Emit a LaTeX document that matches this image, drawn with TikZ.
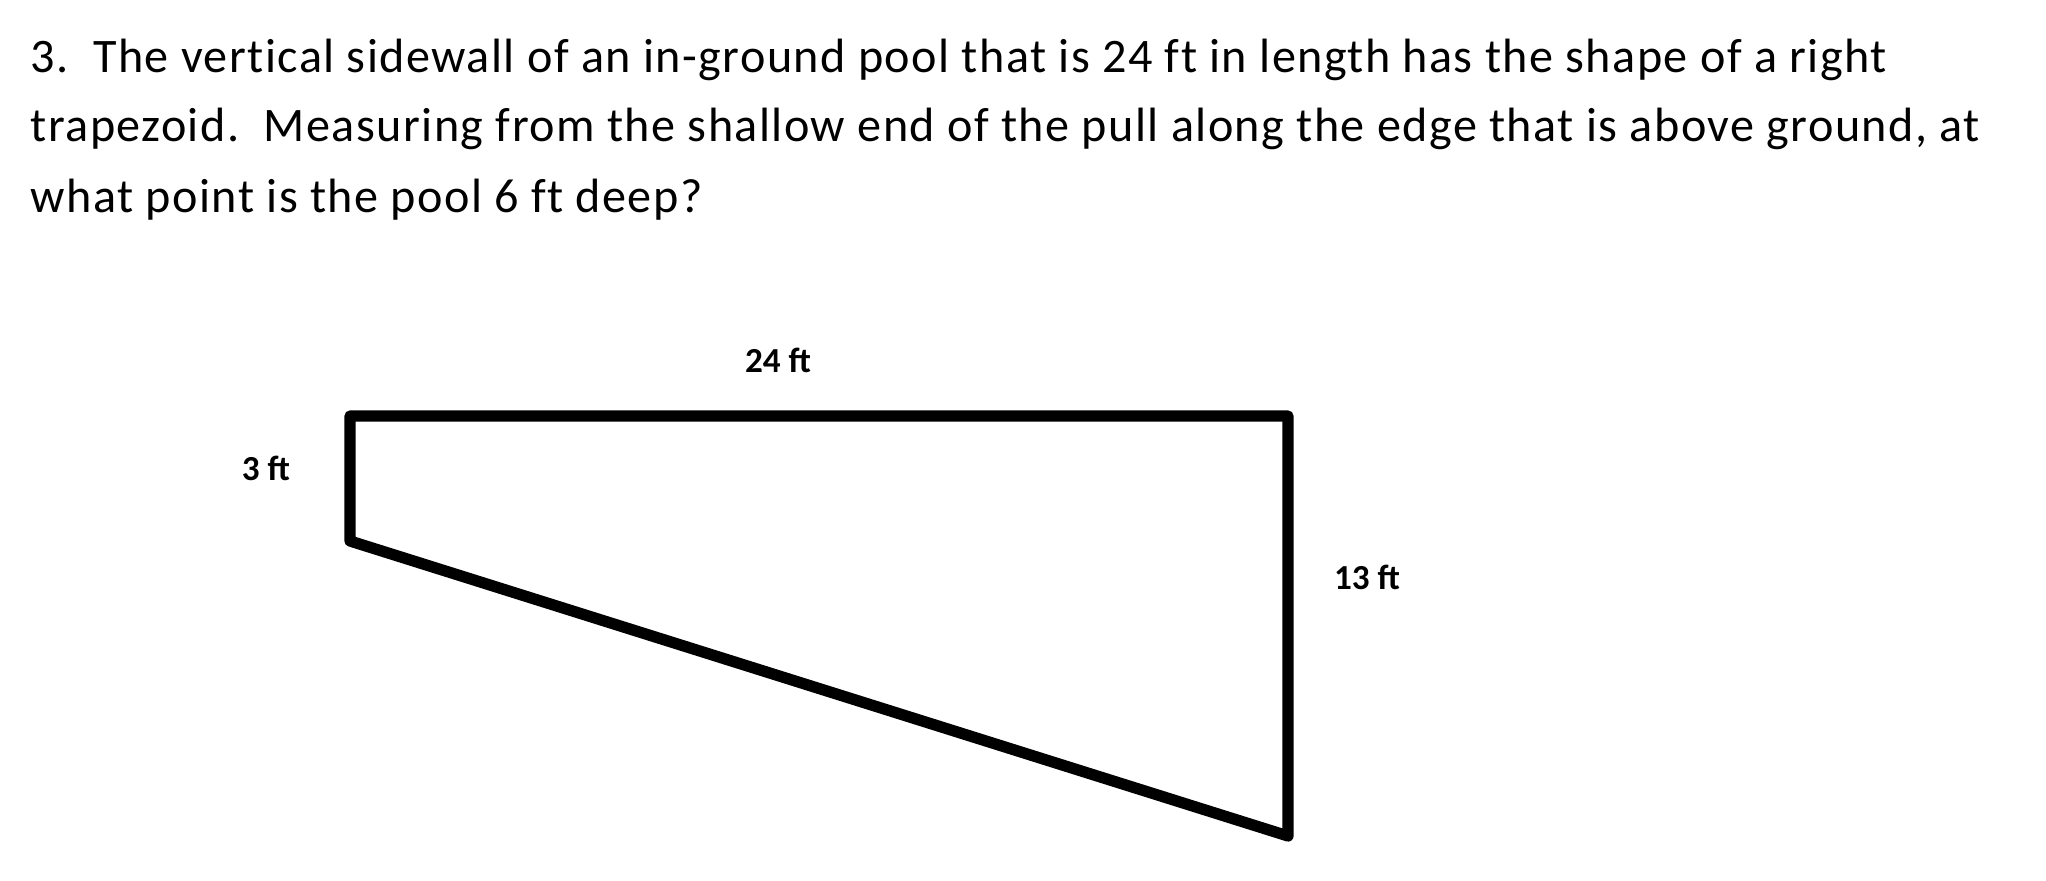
\documentclass[tikz,border=0pt]{standalone}
\usepackage{fontspec}
\setmainfont{Carlito}
\newfontfamily\questionfont{Carlito}[LetterSpace=3.0, Ligatures=NoCommon]
\usetikzlibrary{positioning}

\tikzset{
  question/.style={anchor=base west, inner sep=0pt, font=\questionfont\fontsize{13.7}{20}\selectfont},
  dimlabel/.style={inner sep=0pt, font=\fontsize{10}{12}\selectfont\bfseries},
  poolwall/.style={line width=3.2pt, line join=round, line cap=round}
}

\begin{document}
\begin{tikzpicture}
\useasboundingbox (0,0) rectangle (20.46,8.80);

% question text
\node [question] (line1) at (0.30,8.07) {3.\ \ The vertical sidewall of an in-ground pool that is 24 ft in length has the shape of a right};
\node [question] (line2) at (0.30,7.38) {trapezoid.\ \ Measuring from the shallow end of the pull along the edge that is above ground, at};
\node [question] (line3) at (0.30,6.67) {what point is the pool 6 ft deep?};

% corners of the side wall
\coordinate (shallowtop) at (3.50,4.64);
\coordinate (shallowbot) at (3.50,3.39);
\coordinate (deeptop) at (12.88,4.64);
\coordinate (deepbot) at (12.88,0.44);

\draw [poolwall] (shallowtop) -- (deeptop) -- (deepbot) -- (shallowbot) -- cycle;

% dimensions
\node [dimlabel] (lentop) at (7.78,5.20) {24 ft};
\node [dimlabel] (shallow) at (2.66,4.12) {3 ft};
\node [dimlabel] (deep) at (13.67,3.03) {13 ft};
\end{tikzpicture}
\end{document}
